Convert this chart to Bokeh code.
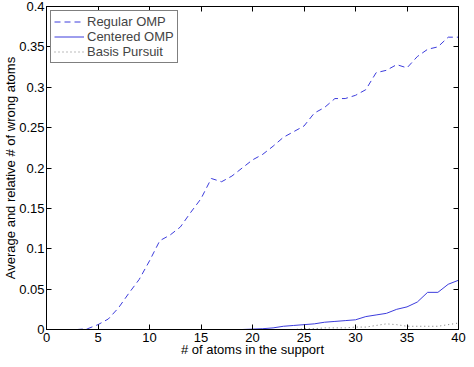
from bokeh.plotting import figure
from bokeh.models import LinearAxis, FixedTicker, Legend, CustomLabelingPolicy
from bokeh.embed import file_html
from bokeh.resources import INLINE

atoms = list(range(1, 41))
regular_omp = [0, 0, 0, 0.001, 0.006, 0.013, 0.027, 0.045, 0.062, 0.085,
               0.11, 0.117, 0.127, 0.145, 0.162, 0.187, 0.183, 0.19, 0.2, 0.21,
               0.217, 0.227, 0.238, 0.245, 0.252, 0.268, 0.275, 0.286, 0.286, 0.29,
               0.297, 0.318, 0.321, 0.328, 0.324, 0.338, 0.347, 0.35, 0.362, 0.362]
centered_omp = [0, 0, 0, 0, 0, 0, 0, 0, 0, 0,
                0, 0, 0, 0, 0, 0, 0, 0, 0, 0.0005,
                0.001, 0.002, 0.004, 0.005, 0.006, 0.007, 0.009, 0.01, 0.011, 0.012,
                0.016, 0.018, 0.02, 0.025, 0.028, 0.034, 0.046, 0.046, 0.056, 0.061]
basis_pursuit = [0, 0, 0, 0, 0, 0, 0, 0, 0, 0,
                 0, 0, 0, 0, 0, 0, 0, 0, 0, 0,
                 0, 0, 0, 0, 0.001, 0.001, 0.002, 0.002, 0.002, 0.003,
                 0.003, 0.005, 0.007, 0.006, 0.004, 0.004, 0.004, 0.004, 0.006, 0.008]

x_ticks = [0, 5, 10, 15, 20, 25, 30, 35, 40]
y_ticks = [0, 0.05, 0.1, 0.15, 0.2, 0.25, 0.3, 0.35, 0.4]
y_tick_labels = ["0", "0.05", "0.1", "0.15", "0.2", "0.25", "0.3", "0.35", "0.4"]

FONT = "Liberation Sans"

p = figure(width=466, height=359, x_range=(0, 40), y_range=(0, 0.4),
           output_backend="svg", toolbar_location=None,
           min_border_left=30, min_border_right=8, min_border_top=6, min_border_bottom=28,
           x_axis_label="# of atoms in the support",
           y_axis_label="Average and relative # of wrong atoms")
p.grid.visible = False
p.outline_line_color = "black"
p.outline_line_width = 1

for ax in p.xaxis + p.yaxis:
    ax.major_tick_in = 5
    ax.major_tick_out = 0
    ax.minor_tick_in = 0
    ax.minor_tick_out = 0
    ax.axis_line_color = "black"
    ax.major_tick_line_color = "black"
    ax.major_label_text_font = FONT
    ax.major_label_text_font_size = "13px"
    ax.major_label_text_color = "black"
    ax.axis_label_text_font = FONT
    ax.axis_label_text_font_size = "13px"
    ax.axis_label_text_font_style = "normal"
    ax.axis_label_text_color = "black"

p.xaxis.ticker = FixedTicker(ticks=x_ticks)
p.yaxis.ticker = FixedTicker(ticks=y_ticks)
p.yaxis.major_label_overrides = dict(zip(y_ticks, y_tick_labels))
p.xaxis.major_label_standoff = 3
p.xaxis.axis_label_standoff = -3
p.yaxis.major_label_standoff = 2
p.yaxis.axis_label_standoff = -2

hide_all = "for (const i of indices) { indices.unset(i) }\nreturn indices"

top = LinearAxis(ticker=FixedTicker(ticks=x_ticks),
                 major_label_policy=CustomLabelingPolicy(code=hide_all),
                 major_label_text_font_size="1px",
                 major_label_standoff=0, major_tick_in=5, major_tick_out=0,
                 minor_tick_in=0, minor_tick_out=0)
right = LinearAxis(ticker=FixedTicker(ticks=y_ticks),
                   major_label_policy=CustomLabelingPolicy(code=hide_all),
                   major_label_text_font_size="1px",
                   major_label_standoff=0, major_tick_in=5, major_tick_out=0,
                   minor_tick_in=0, minor_tick_out=0)
p.add_layout(top, "above")
p.add_layout(right, "right")

r1 = p.line(atoms, regular_omp, line_color="#3c3cdc", line_width=1, line_dash="6 4")
r2 = p.line(atoms, centered_omp, line_color="#3c3cdc", line_width=1)
r3 = p.line(atoms, basis_pursuit, line_color="#777777", line_width=1, line_dash="1 3")

legend = Legend(items=[("Regular OMP", [r1]), ("Centered OMP", [r2]), ("Basis Pursuit", [r3])],
                location="top_left", margin=4, padding=3, spacing=0,
                label_height=15, glyph_height=15, glyph_width=30, label_standoff=3,
                label_text_font=FONT, label_text_font_size="13px",
                border_line_color="black", border_line_width=1,
                background_fill_color="white", background_fill_alpha=1)
p.add_layout(legend)

open("out.html", "w").write(file_html(p, INLINE))
